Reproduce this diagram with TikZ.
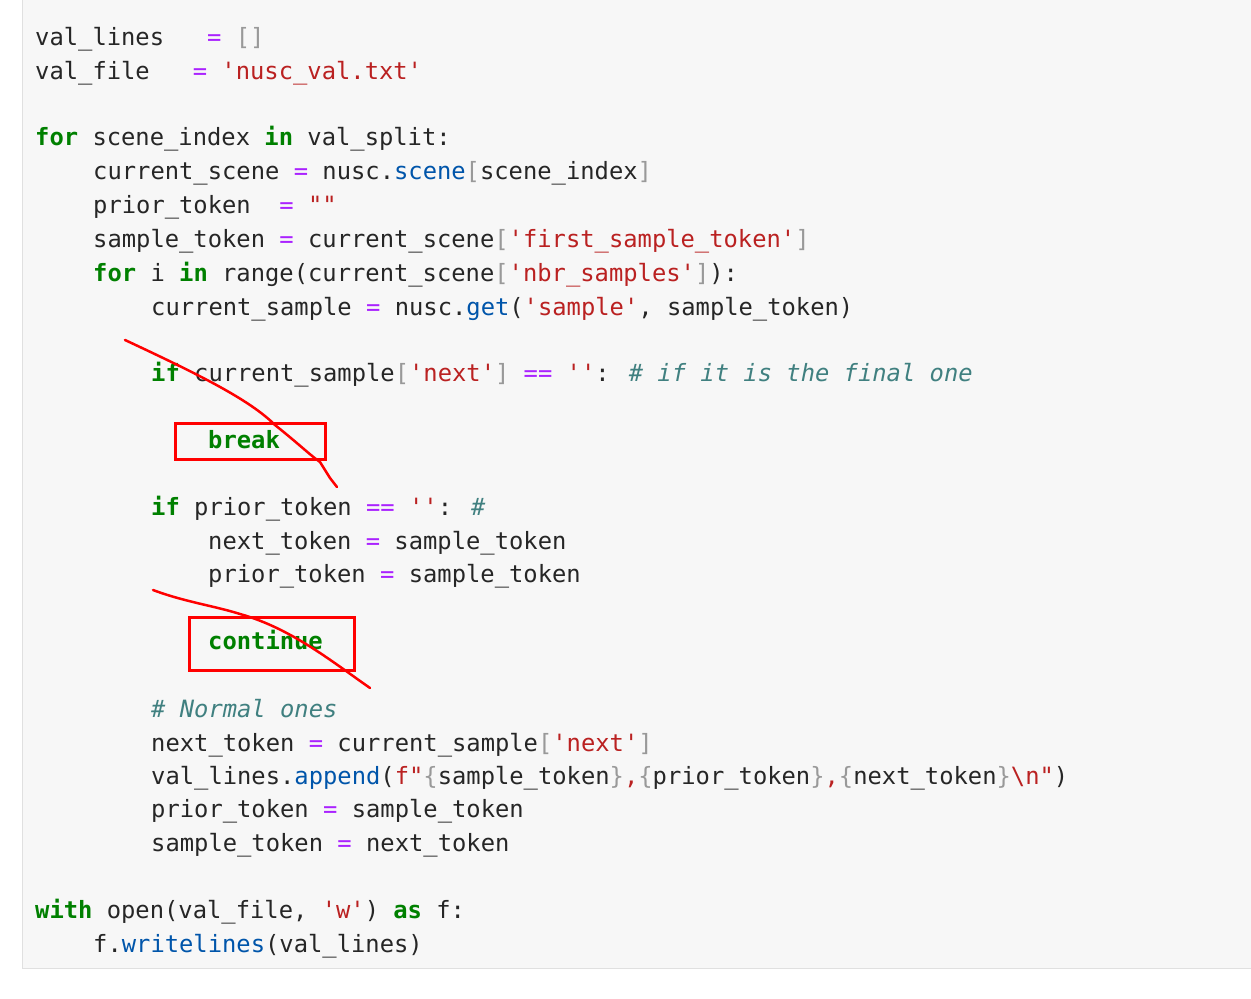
\documentclass[tikz,border=0pt]{standalone}
\usepackage{fontspec}
\newfontfamily\code{DejaVu Sans Mono}
\definecolor{kwc}{HTML}{008000}
\definecolor{stc}{HTML}{BA2121}
\definecolor{opc}{HTML}{AA22FF}
\definecolor{brc}{HTML}{999999}
\definecolor{fnc}{HTML}{0055AA}
\definecolor{cmc}{HTML}{408080}
\definecolor{bgc}{HTML}{F7F7F7}
\newcommand{\kw}[1]{\textcolor{kwc}{\bfseries #1}}
\newcommand{\strg}[1]{\textcolor{stc}{#1}}
\newcommand{\opr}[1]{\textcolor{opc}{#1}}
\newcommand{\brk}[1]{\textcolor{brc}{#1}}
\newcommand{\fnn}[1]{\textcolor{fnc}{#1}}
\newcommand{\cmt}[1]{\textcolor{cmc}{\itshape #1}}
\begin{document}
\begin{tikzpicture}[x=1pt,y=-1pt,
  ln/.style={anchor=west,inner sep=0pt,font=\code\fontsize{23.8}{26}\selectfont,text=black!85},
  redbox/.style={draw=red,line width=3pt},
  scribble/.style={draw=red,line width=2.5pt,line cap=round}]
\useasboundingbox (0,0) rectangle (1251,999);
\fill[bgc] (22,0) rectangle (1251,968);
\draw[black!12] (22,0) -- (22,968) -- (1251,968);
\begin{scope}[yshift=-3pt]
\node[ln] (l1) at (35,37) {val\_lines~~~\opr{=} \brk{[]}\strut};
\node[ln] (l2) at (35,71) {val\_file~~~\opr{=} \strg{'nusc\_val.txt'}\strut};
\node[ln] (l3) at (35,137) {\kw{for} scene\_index \kw{in} val\_split:\strut};
\node[ln] (l4) at (93,171) {current\_scene \opr{=} nusc.\fnn{scene}\brk{[}scene\_index\brk{]}\strut};
\node[ln] (l5) at (93,205) {prior\_token~~\opr{=} \strg{""}\strut};
\node[ln] (l6) at (93,239) {sample\_token \opr{=} current\_scene\brk{[}\strg{'first\_sample\_token'}\brk{]}\strut};
\node[ln] (l7) at (93,273) {\kw{for} i \kw{in} range(current\_scene\brk{[}\strg{'nbr\_samples'}\brk{]}):\strut};
\node[ln] (l8) at (151,307) {current\_sample \opr{=} nusc.\fnn{get}(\strg{'sample'}, sample\_token)\strut};
\node[ln] (l9) at (151,373) {\kw{if} current\_sample\brk{[}\strg{'next'}\brk{]} \opr{==} \strg{''}: \cmt{\# if it is the final one}\strut};
\node[ln] (l10) at (208,440) {\kw{break}\strut};
\node[ln] (l11) at (151,507) {\kw{if} prior\_token \opr{==} \strg{''}: \cmt{\#}\strut};
\node[ln] (l12) at (208,541) {next\_token \opr{=} sample\_token\strut};
\node[ln] (l13) at (208,574) {prior\_token \opr{=} sample\_token\strut};
\node[ln] (l14) at (208,641) {\kw{continue}\strut};
\node[ln] (l15) at (151,709) {\cmt{\# Normal ones}\strut};
\node[ln] (l16) at (151,743) {next\_token \opr{=} current\_sample\brk{[}\strg{'next'}\brk{]}\strut};
\node[ln] (l17) at (151,776) {val\_lines.\fnn{append}(\strg{f"}\brk{\{}sample\_token\brk{\}}\strg{,}\brk{\{}prior\_token\brk{\}}\strg{,}\brk{\{}next\_token\brk{\}}\strg{\textbackslash n"})\strut};
\node[ln] (l18) at (151,809) {prior\_token \opr{=} sample\_token\strut};
\node[ln] (l19) at (151,843) {sample\_token \opr{=} next\_token\strut};
\node[ln] (l20) at (35,910) {\kw{with} open(val\_file, \strg{'w'}) \kw{as} f:\strut};
\node[ln] (l21) at (93,944) {f.\fnn{writelines}(val\_lines)\strut};
\end{scope}
\draw[redbox] (175,423) rectangle (325,459);
\draw[redbox] (189,617) rectangle (354,670);
\draw[scribble] (125,340) .. controls (200,375) and (250,400) .. (275,425) .. controls (300,445) and (310,455) .. (320,462) -- (330,478) -- (337,487);
\draw[scribble] (153,590) .. controls (185,602) and (215,606) .. (240,614) .. controls (290,628) and (330,660) .. (370,688);
\end{tikzpicture}
\end{document}
